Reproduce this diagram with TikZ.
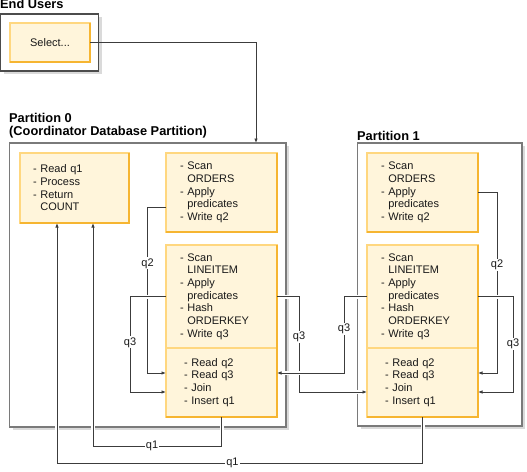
\documentclass[tikz,border=0pt]{standalone}
\usepackage{fontspec}
\setmainfont{Liberation Sans}
\usetikzlibrary{arrows.meta,shadows}

\definecolor{taskfill}{HTML}{FFF5DB}
\definecolor{taskline}{HTML}{FFD77F}
\definecolor{taskedge}{HTML}{F6B531}
\definecolor{linkcol}{HTML}{3C3C3C}
\definecolor{partline}{HTML}{7A7A7A}
\definecolor{shadecol}{HTML}{DADADA}

\tikzset{
	part/.style={draw=partline, fill=white, line width=1.2pt, anchor=north west, inner sep=0pt, outer sep=0pt,
		drop shadow={shadow xshift=3pt, shadow yshift=-3pt, fill=shadecol, opacity=1}},
	task/.style={draw=taskline, fill=taskfill, line width=1.2pt, anchor=north west, inner sep=0pt, outer sep=0pt,
		inner xsep=14pt, minimum width=111pt, text width=83pt, align=left, text=black!90,
		font=\fontsize{11}{12.7}\selectfont},
	title/.style={anchor=base west, inner sep=0pt, font=\bfseries\fontsize{12.8}{13}\selectfont},
	link/.style={draw=linkcol, line width=0.9pt, -{Latex[length=4.5pt,width=3.5pt]}},
	gap/.style={preaction={draw=white, line width=4pt, -, shorten <=3pt, shorten >=3pt}},
	lbl/.style={fill=white, inner sep=1pt, text=black!90, font=\fontsize{11}{12.7}\selectfont}
}

\begin{document}
\begin{tikzpicture}[x=1pt, y=-1pt]
		\useasboundingbox (0,0) rectangle (527,471);
		% end users
		\node[title] (teu) at (0,9) {End Users};
		\node[part, draw=black!70, minimum width=98pt, minimum height=57pt] (eu) at (0.75,14) {};
		\node[task, minimum width=80pt, minimum height=39pt, text width=80pt, inner xsep=0pt, align=center] (sel) at (10,23) {Select...};
		% partitions
		\node[title] (tp0) at (9,122.5) {Partition 0};
		\node[title] (tp0b) at (9,135.5) {(Coordinator Database Partition)};
		\node[title] (tp1) at (357,140) {Partition 1};
		\node[part, minimum width=276.5pt, minimum height=284pt] (p0) at (9.5,143) {};
		\node[part, minimum width=164.5pt, minimum height=283pt] (p1) at (357.5,143) {};
		% partition 0
		\node[task, minimum width=109pt, minimum height=70pt, inner xsep=13pt] (cnt) at (20,153)
			{- Read q1\\- Process\\- Return\\\hphantom{- }COUNT};
		\node[task, minimum height=79pt] (ord0) at (166,153)
			{- Scan\\\hphantom{- }ORDERS\\- Apply\\\hphantom{- }predicates\\- Write q2};
		\node[task, minimum height=103pt] (li0) at (166,245)
			{- Scan\\\hphantom{- }LINEITEM\\- Apply\\\hphantom{- }predicates\\- Hash\\\hphantom{- }ORDERKEY\\- Write q3};
		\node[task, minimum height=69pt, inner xsep=18pt, text width=75pt] (join0) at (166,348)
			{- Read q2\\- Read q3\\- Join\\- Insert q1};
		% partition 1
		\node[task, minimum height=79pt] (ord1) at (367,153)
			{- Scan\\\hphantom{- }ORDERS\\- Apply\\\hphantom{- }predicates\\- Write q2};
		\node[task, minimum height=103pt] (li1) at (367,245)
			{- Scan\\\hphantom{- }LINEITEM\\- Apply\\\hphantom{- }predicates\\- Hash\\\hphantom{- }ORDERKEY\\- Write q3};
		\node[task, minimum height=69pt, inner xsep=18pt, text width=75pt] (join1) at (367,348)
			{- Read q2\\- Read q3\\- Join\\- Insert q1};
		% darker lower and right edges
		\foreach \n in {sel,cnt,ord0,join0,ord1,join1}
			\draw[taskedge, line width=2pt] (\n.north east) -- (\n.south east) -- (\n.south west);
		\foreach \n in {li0,li1}
			\draw[taskedge, line width=2pt] (\n.north east) -- (\n.south east);
		% connectors
		\draw[link] (sel.east) -| ([xshift=246.5pt]p0.north west);
		\draw[link, gap] ([yshift=-14.5pt]ord0.west) -- ++(-18.5,0) |- ([yshift=9.5pt]join0.west) node[lbl, pos=.17] {q2};
		\draw[link, gap] (ord1.east) -- ++(19,0) |- ([yshift=9.5pt]join1.east) node[lbl, pos=.2] {q2};
		\draw[link, gap] (li0.west) -- ++(-36,0) |- ([yshift=-9.5pt]join0.west) node[lbl, pos=.24] {q3};
		\draw[link, gap] (li0.east) -- ++(22,0) |- ([yshift=-9.5pt]join1.west) node[lbl, pos=.21] {q3};
		\draw[link, gap] (li1.west) -- ++(-23,0) |- ([yshift=9.5pt]join0.east) node[lbl, pos=.21] {q3};
		\draw[link, gap] (li1.east) -- ++(35,0) |- ([yshift=-9.5pt]join1.east) node[lbl, pos=.25] {q3};
		\draw[link, gap] (join0.south) -- ++(0,29) -| ([xshift=18.5pt]cnt.south) node[lbl, pos=.27] {q1};
		\draw[link, gap] (join1.south) -- ++(0,46) -| ([xshift=-17.5pt]cnt.south) node[lbl, pos=.26] {q1};
	\end{tikzpicture}
\end{document}
